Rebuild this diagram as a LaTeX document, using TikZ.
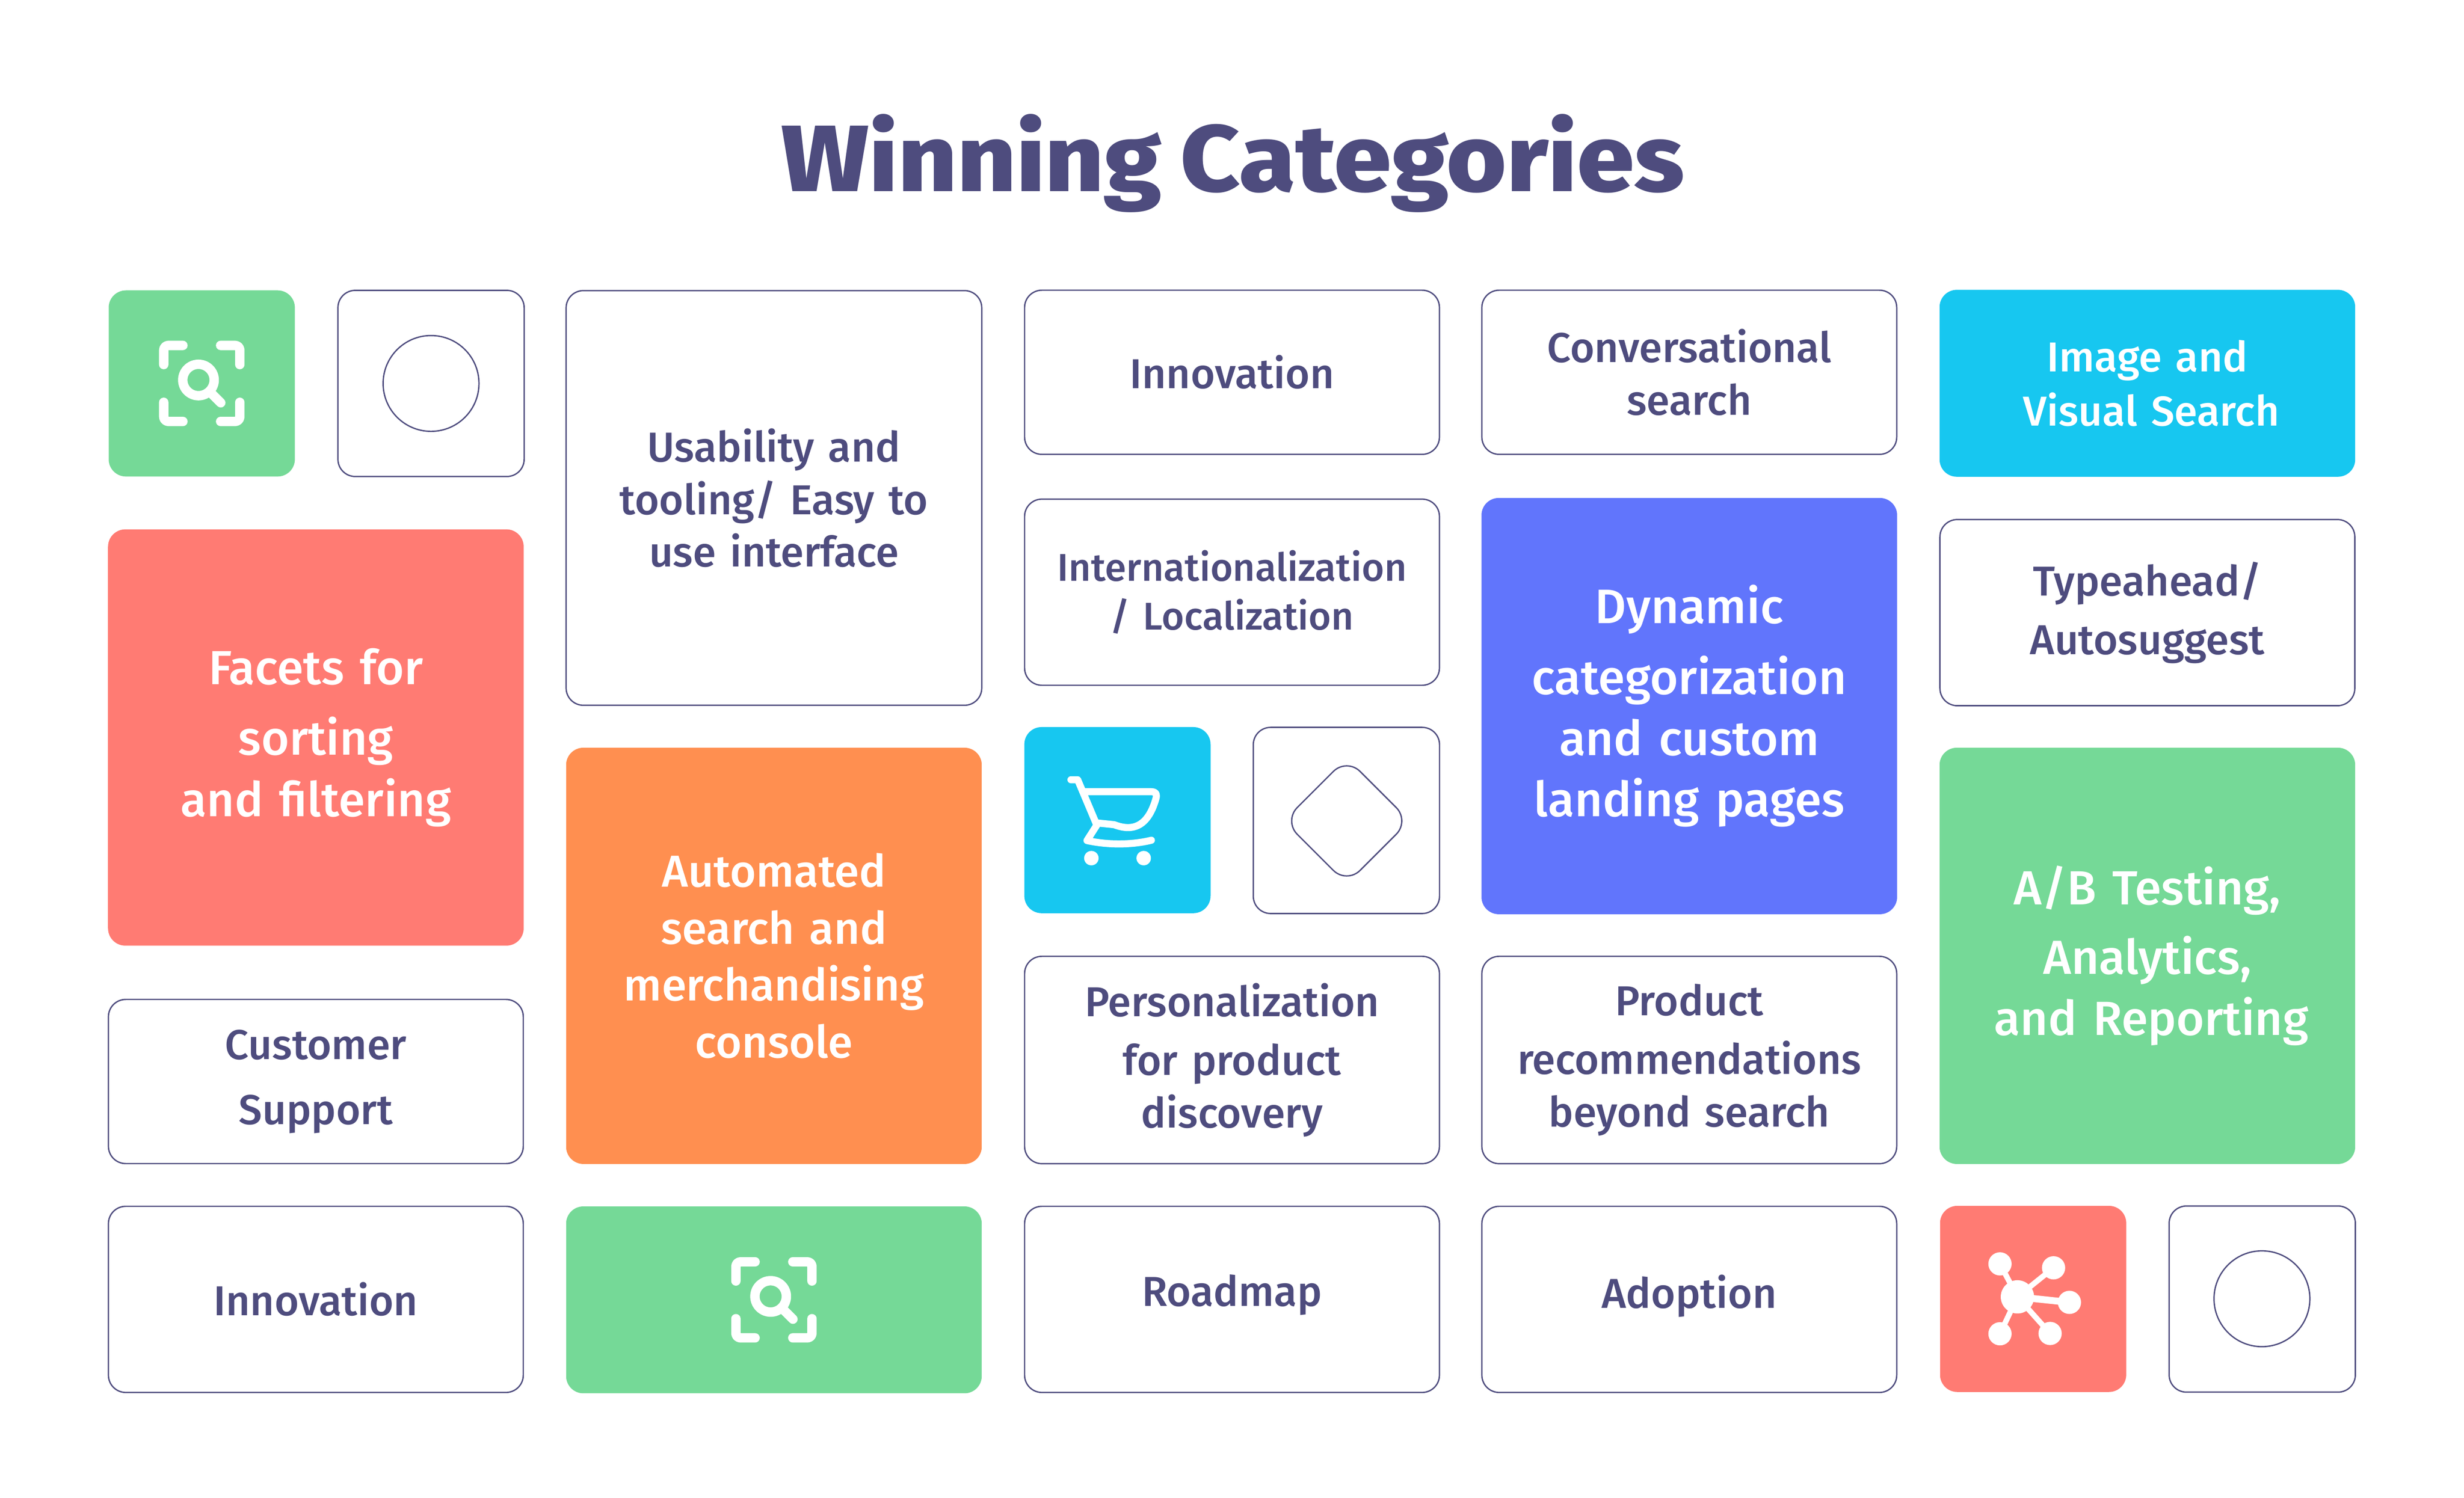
\documentclass[tikz,border=0pt]{standalone}
\usepackage{fontspec}
\setmainfont{Fira Sans Medium}[WordSpace=0.6]
\newfontfamily\titlefont{Fira Sans ExtraBold}[FakeStretch=1.09,WordSpace=0.8]
\usepackage{tikz}
\usetikzlibrary{calc}
\definecolor{inkblue}{HTML}{4E4C7E}
\definecolor{leafgreen}{HTML}{75D997}
\definecolor{coral}{HTML}{FF7B73}
\definecolor{tangerine}{HTML}{FF8F50}
\definecolor{violetblue}{HTML}{6175FC}
\definecolor{skycyan}{HTML}{17C7F0}
\tikzset{
  card/.style={rectangle,rounded corners=11pt,align=center,inner sep=0pt,text width=250pt},
  outlinecard/.style={card,draw=inkblue,line width=0.85pt,text=inkblue,font=\fontsize{26.6}{33.5}\selectfont},
  fillcard/.style={card,fill=#1,text=white},
  nudge/.style={execute at begin node={\vspace*{#1}}},
  smallcard/.style={minimum width=118.5pt,minimum height=118.5pt,text width=100pt},
  flatcard/.style={minimum width=264pt,minimum height=118.5pt},
  shortcard/.style={minimum width=264pt,minimum height=104.5pt},
  midcard/.style={minimum width=264pt,minimum height=132pt},
  tallcard/.style={minimum width=264.5pt,minimum height=265pt},
  glyph/.style={draw=white,line width=6pt,line cap=round,line join=round},
  searchicon/.pic={
    \foreach \sx/\sy in {-1/-1,1/-1,-1/1,1/1}{
      \draw[glyph,rounded corners=3pt] (\sx*12,\sy*24.2)--(\sx*24.2,\sy*24.2)--(\sx*24.2,\sy*12);
    }
    \draw[glyph] (-2.1,-2.2) circle (10);
    \draw[glyph] (5,5.2)--(12.1,12.3);
  }
}
\begin{document}
\begin{tikzpicture}[x=1pt,y=-1pt]
  \useasboundingbox (0,0) rectangle (1568,953.5);
  \node[inkblue,font=\titlefont\fontsize{60}{70}\selectfont,anchor=base] (title) at (784.5,121.7) {Winning Categories};
  % first column
  \node[fillcard=leafgreen,smallcard] (scan) at (128.4,244.1) {};
  \node[outlinecard,smallcard] (blankA) at (274.3,244.1) {};
  \node[fillcard=coral,tallcard,font=\fontsize{30.5}{39}\selectfont,nudge=6pt] (facets) at (201,469.5) {Facets for\\sorting\hspace*{5pt}\\and filtering};
  \node[outlinecard,shortcard,nudge=8pt] (support) at (201,688.5) {Customer\\Support};
  \node[outlinecard,flatcard] (innovationB) at (201,827.2) {Innovation};
  \draw[inkblue,line width=0.85pt] (274.3,244.1) circle (30.5);
  \pic at (scan.center) {searchicon};
  % second column
  \node[outlinecard,tallcard,minimum height=264pt] (usability) at (492.5,317) {Usability and\\tooling/ Easy to\\use interface};
  \node[fillcard=tangerine,tallcard,font=\fontsize{28.5}{36.3}\selectfont] (console) at (492.5,608.5) {Automated\\search and\\merchandising\\console};
  \node[fillcard=leafgreen,minimum width=264.5pt,minimum height=119pt] (scanB) at (492.5,827.5) {};
  \pic at (scanB.center) {searchicon};
  % third column
  \node[outlinecard,shortcard] (innovationA) at (784,237) {Innovation};
  \node[outlinecard,flatcard,font=\fontsize{24.6}{31}\selectfont] (intl) at (784,377) {Internationalization\\/ Localization};
  \node[fillcard=skycyan,smallcard] (cart) at (711.1,522.1) {};
  \node[outlinecard,smallcard] (blankD) at (856.8,522.3) {};
  \node[outlinecard,midcard,nudge=4pt] (personal) at (784,674.8) {Personalization\\for product\\discovery};
  \node[outlinecard,flatcard,nudge=6pt] (roadmap) at (784,827.2) {Roadmap};
  \draw[inkblue,line width=0.85pt,rounded corners=12pt] (857,482.6)--(897,522.6)--(857,562.6)--(817,522.6)--cycle;
  \begin{scope}[line width=4.5pt,line cap=round,line join=round]
    \draw[white] (681.5,496.4)--(685.8,496.4)--(697.6,524.4);
    \draw[white] (689.4,504)--(732.7,504) .. controls (736.5,504) and (736,507) .. (735.7,508) .. controls (731,525) and (722,530) .. (709,525) -- (698.2,523.9);
    \draw[white] (698.2,524.9)--(691.7,535.1) .. controls (705,538) and (720,538) .. (732.7,534.9);
  \end{scope}
  \fill[white] (694.5,546.3) circle (4.6) (727.8,546.3) circle (4.6);
  % fourth column
  \node[outlinecard,shortcard] (conversational) at (1075,237) {Conversational\\search};
  \node[fillcard=violetblue,tallcard,font=\fontsize{30.8}{39}\selectfont,nudge=6pt] (dynamic) at (1075,449.5) {Dynamic\\categorization\\and custom\\landing pages};
  \node[outlinecard,midcard,nudge=4pt] (product) at (1075,674.8) {Product\\recommendations\\beyond search};
  \node[outlinecard,flatcard,nudge=4pt] (adoption) at (1075,827.2) {Adoption};
  % fifth column
  \node[fillcard=skycyan,minimum width=264.5pt,minimum height=119pt,font=\fontsize{26.6}{33.5}\selectfont,nudge=1pt] (image) at (1366.5,244) {Image and\\\hspace*{5pt}Visual Search};
  \node[outlinecard,flatcard,nudge=4pt] (typeahead) at (1366.5,390) {Typeahead/\\Autosuggest};
  \node[fillcard=leafgreen,tallcard,font=\fontsize{30.5}{39}\selectfont,nudge=5pt] (abtest) at (1366.5,608.5) {A/B Testing,\\Analytics,\\\hspace*{5pt}and Reporting};
  \node[fillcard=coral,smallcard] (network) at (1293.8,826.9) {};
  \node[outlinecard,smallcard] (blankB) at (1439.6,827) {};
  \draw[inkblue,line width=0.85pt] (1439.4,826.8) circle (30.5);
  \foreach \nx/\ny/\nw in {1272.7/804.6/3.5,1306.8/807.1/3.5,1316.9/829.1/4.4,1272.7/849.1/3.5,1304.6/848.9/3.5}{
    \draw[white,line width=\nw pt] (1283.8,825.6)--(\nx,\ny);
    \fill[white] (\nx,\ny) circle (7.4);
  }
  \fill[white] (1283.8,825.6) circle (10.6);
\end{tikzpicture}
\end{document}
